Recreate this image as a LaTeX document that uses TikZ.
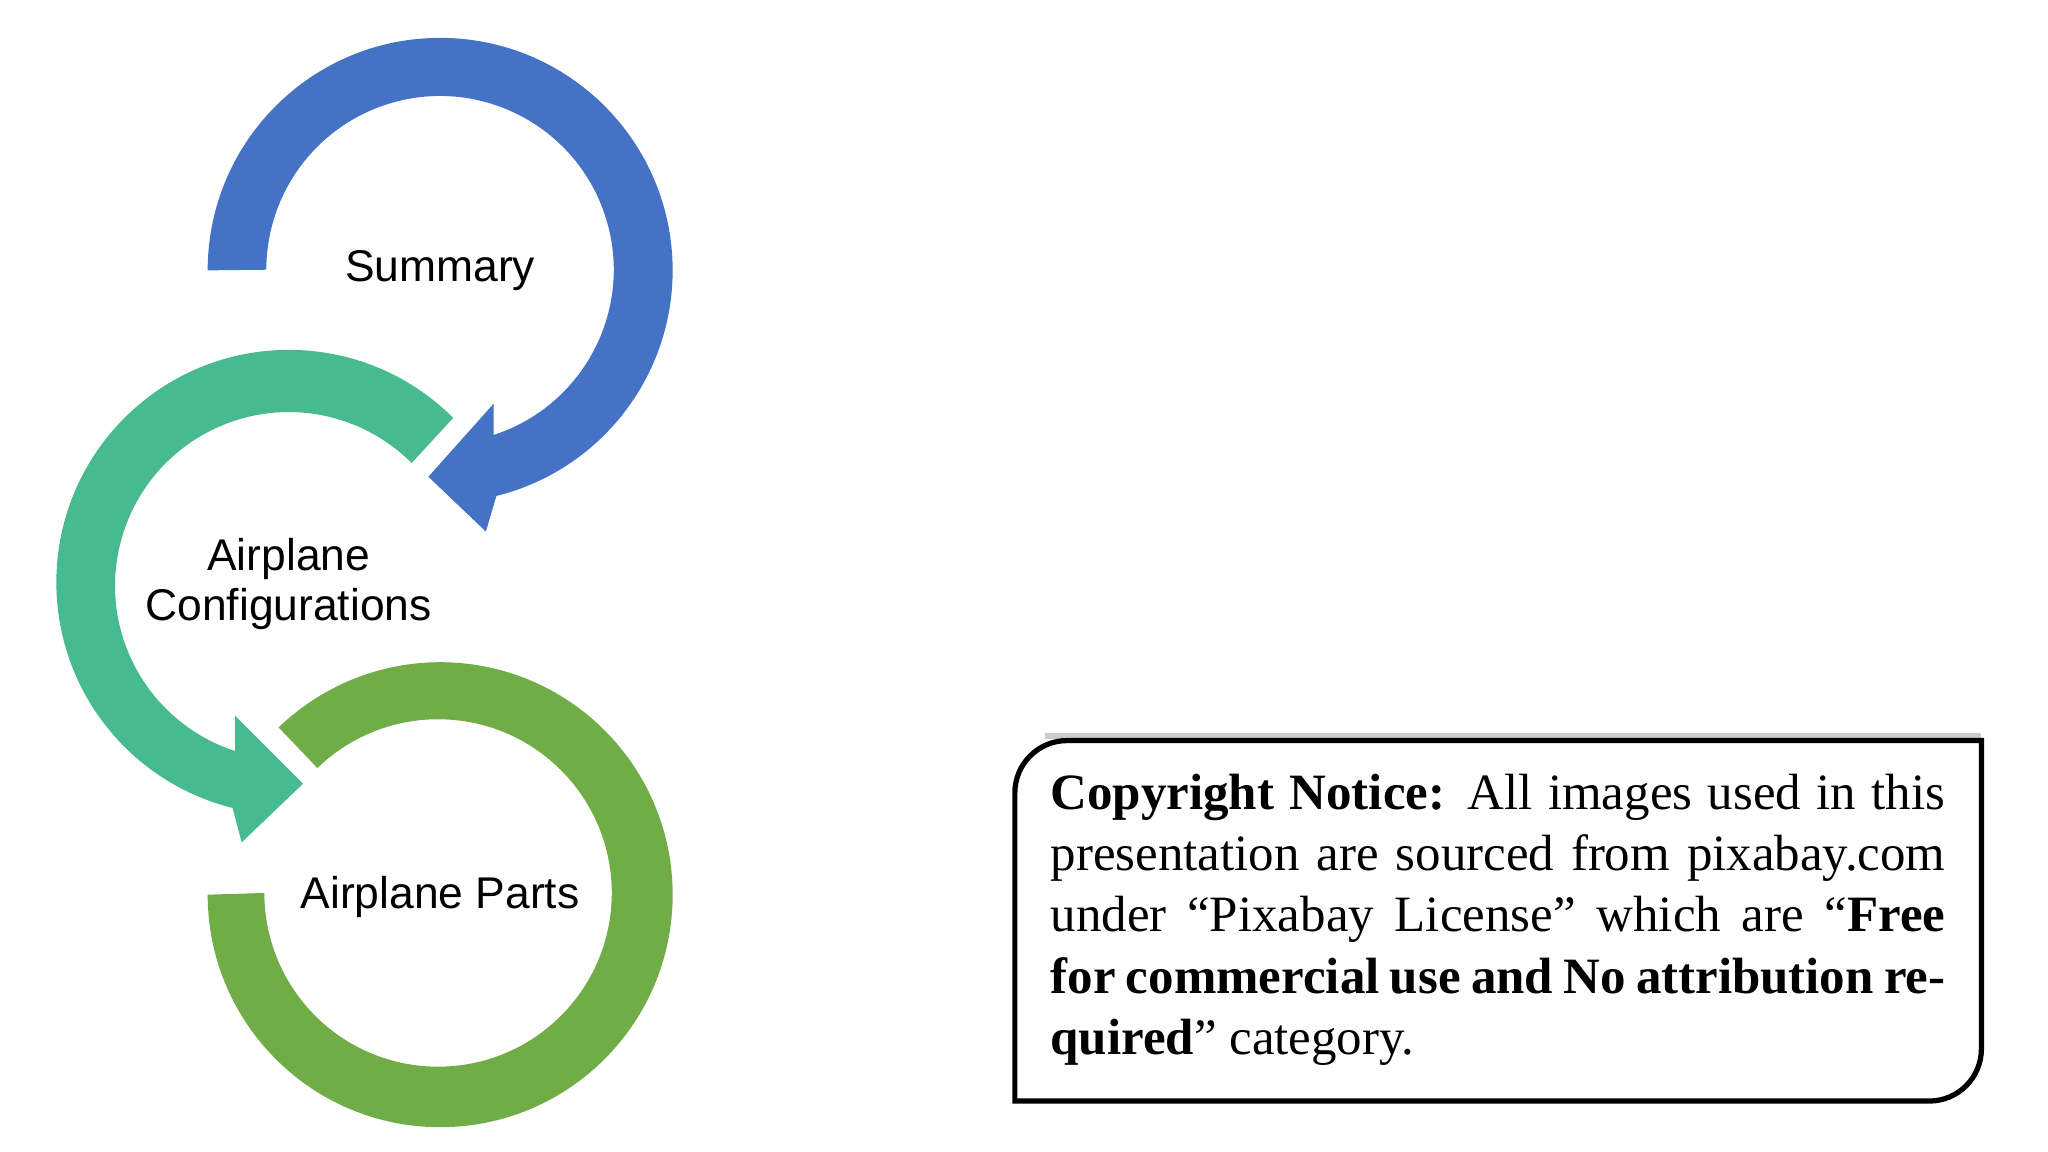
\documentclass[tikz,border=0pt]{standalone}
\usepackage{fontspec}
\setmainfont{Liberation Serif}
\newfontfamily\lsans{Liberation Sans}
\definecolor{cblue}{HTML}{4472C4}
\definecolor{cteal}{HTML}{47BA8F}
\definecolor{cgreen}{HTML}{70AD47}
\begin{document}
\begin{tikzpicture}[x=0.5pt,y=-0.5pt,
  lab/.style={font=\lsans\fontsize{17}{19}\selectfont,align=center,inner sep=0pt}]
\useasboundingbox (0,0) rectangle (1568,882);
% blue
\fill[cblue] (159,207) arc[start angle=180,end angle=436,radius=178]
  -- (372,407) -- (328,365) -- (378,309) -- (378,333)
  arc[start angle=432,end angle=180,radius=133] -- cycle;
% teal
\fill[cteal] (347,320) arc[start angle=315,end angle=104,radius=178]
  -- (185,645) -- (232,600) -- (180,548) -- (180,575)
  arc[start angle=108,end angle=315,radius=133] -- cycle;
% green
\fill[cgreen] (159,685) arc[start angle=180,end angle=-134,radius=178]
  -- (243,588) arc[start angle=-134,end angle=180,radius=133] -- cycle;
\node[lab] (sum) at (337,207) {Summary};
\node[lab] (conf) at (221,447) {Airplane\\Configurations};
\node[lab] (parts) at (337,687) {Airplane Parts};
% copyright box
\fill[gray!40] (800,561) -- (1517,561) -- (1517,566) -- (800,566) -- cycle;
\draw[line width=2pt] (777,700) [rounded corners=20pt] -- (777,567) [sharp corners] -- (1517,567) -- (1517,700) [rounded corners=20pt] -- (1517,843) [sharp corners] -- (777,843) -- cycle;
\node[anchor=north west,inner sep=0pt,text width=342.5pt,align=justify,
  font=\fontsize{19.5}{23.5}\selectfont] (note) at (804,592)
 {\hyphenpenalty=10000\exhyphenpenalty=10000\textbf{Copyright Notice:} All images used in this presentation are sourced from pixabay.com under ``Pixabay License'' which are ``\textbf{Free for commercial use and No attribution required}'' category.};
\end{tikzpicture}
\end{document}
